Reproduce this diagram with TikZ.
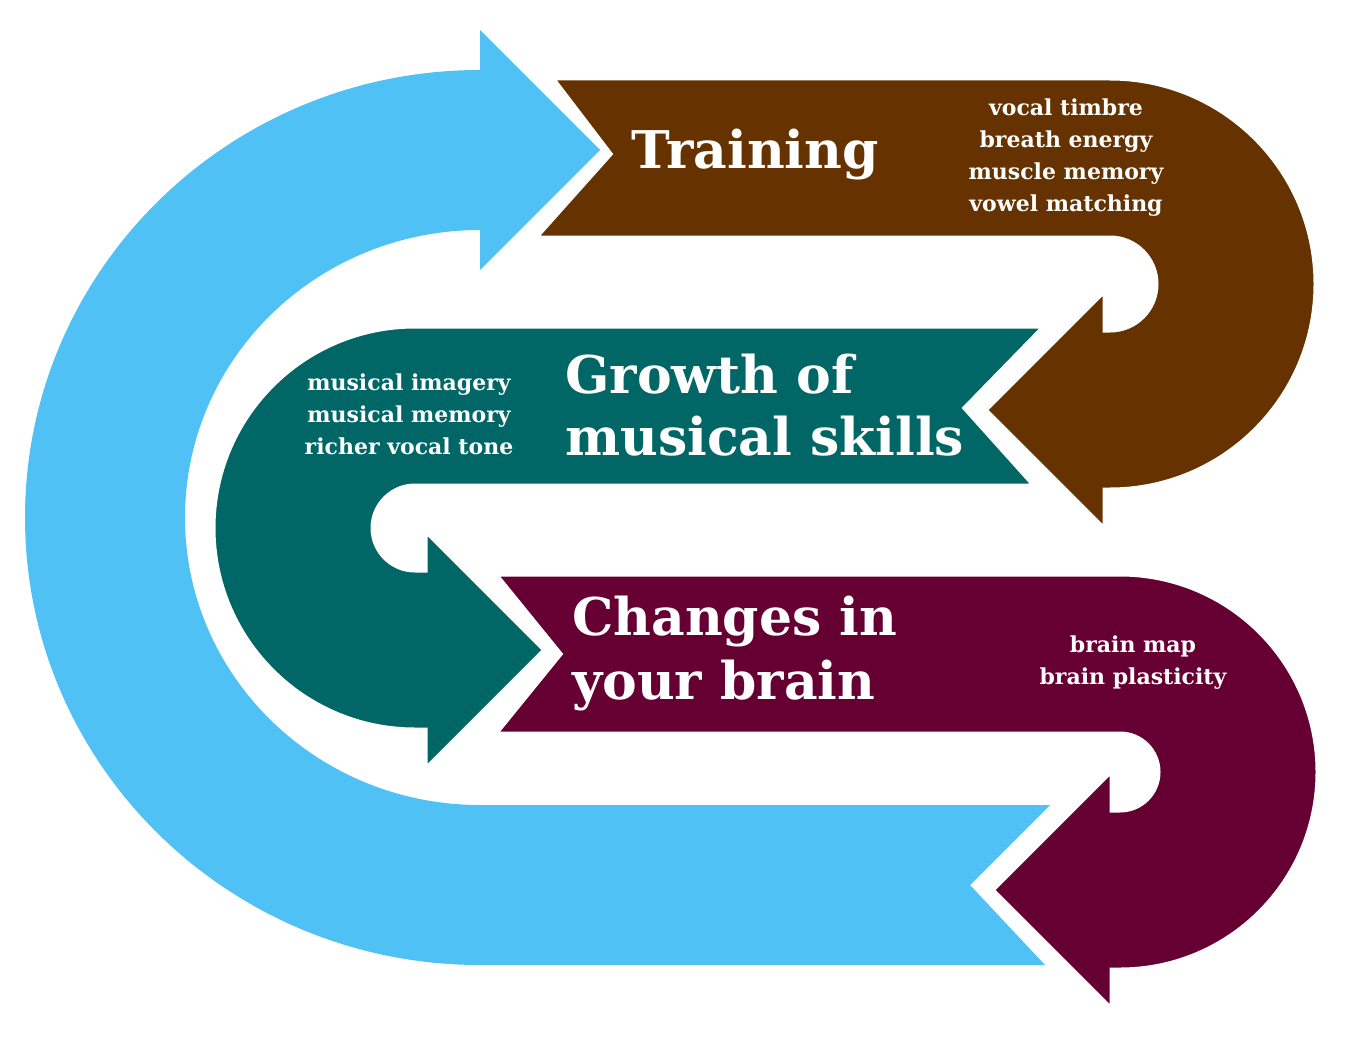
\documentclass[tikz,border=0pt]{standalone}
\usepackage{fontspec}
\setmainfont{DejaVu Serif}
\begin{document}
\begin{tikzpicture}[x=1pt,y=-1pt,
  shp/.style={draw=white,line width=5pt,line join=miter},
  big/.style={text=white,font=\fontsize{52}{60}\selectfont\bfseries,inner sep=0pt},
  sm/.style={text=white,font=\fontsize{22}{32}\selectfont\bfseries,inner sep=0pt,align=center}]
\definecolor{cblue}{HTML}{4FC1F5}
\definecolor{cbrown}{HTML}{663300}
\definecolor{cteal}{HTML}{006666}
\definecolor{cmaroon}{HTML}{660033}
\useasboundingbox (0,0) rectangle (1348,1054);
% blue
\fill[cblue] (480,70) -- (480,30) -- (600,150) -- (480,270) -- (480,230)
  arc[start angle=270,end angle=90,x radius=295,y radius=287.5]
  -- (1050,805) -- (970,885) -- (1045,965) -- (480,965)
  arc[start angle=90,end angle=270,x radius=455,y radius=447.5] -- cycle;
% brown
\path[shp,fill=cbrown] (552,78) -- (1110,78) arc[start angle=-90,end angle=90,radius=206]
  -- (1105,490) -- (1105,530) -- (985,410) -- (1105,290) -- (1105,330) -- (1110,330)
  arc[start angle=90,end angle=-90,radius=46] -- (535,238) -- (610,154) -- cycle;
% teal
\path[shp,fill=cteal] (1045,326) -- (415,326) arc[start angle=270,end angle=90,radius=202]
  -- (425,730) -- (425,770) -- (545,650) -- (425,530) -- (425,570) -- (415,570)
  arc[start angle=90,end angle=270,radius=42] -- (1035,486) -- (965,408) -- cycle;
% maroon
\path[shp,fill=cmaroon] (495,574) -- (1120,574) arc[start angle=-90,end angle=90,radius=198]
  -- (1112,970) -- (1112,1010) -- (992,890) -- (1112,770) -- (1112,810) -- (1120,810)
  arc[start angle=90,end angle=-90,radius=38] -- (495,734) -- (560,654) -- cycle;
% texts
\node[big] (t1) at (755,155) {Training};
\node[sm] (l1) at (1066,158) {vocal timbre\\breath energy\\muscle memory\\vowel matching};
\node[big,anchor=west] (t2a) at (565,374) {Growth of};
\node[big,anchor=west] (t2b) at (565,436) {musical skills};
\node[sm] (l2) at (409,414) {musical imagery\\musical memory\\richer vocal tone};
\node[big,anchor=west] (t3a) at (572,622) {Changes in};
\node[big,anchor=west] (t3b) at (572,686) {your brain};
\node[sm] (l3) at (1133,663) {brain map\\brain plasticity};
\end{tikzpicture}
\end{document}
